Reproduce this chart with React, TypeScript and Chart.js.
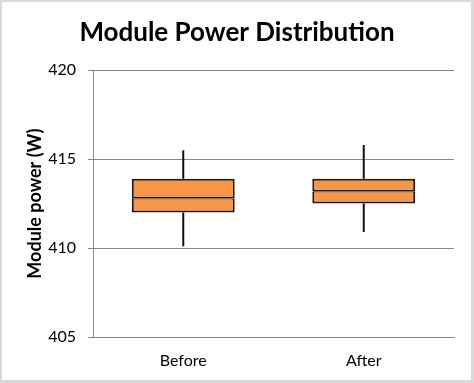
import React, { useEffect, useRef } from "react";
import { Chart, registerables } from "chart.js";

Chart.register(...registerables);

const categories = ["Before", "After"];
const mins = [410.1, 410.9];
const q1s = [412.0, 412.5];
const medians = [412.8, 413.2];
const q3s = [413.9, 413.9];
const maxs = [415.5, 415.8];
const yTicks = [405, 410, 415, 420];

const FONT = "Lato, 'Liberation Sans', sans-serif";
const BOX_FILL = "#F79646";
const BOX_LINE = "#24160a";
const GRID = "#888888";

const pageFrame = {
  id: "pageFrame",
  beforeDraw(chart: any) {
    const { ctx, width, height } = chart;
    ctx.save();
    ctx.fillStyle = "#d9d9d9";
    ctx.fillRect(0, 0, width, height);
    ctx.fillStyle = "#ffffff";
    ctx.fillRect(2, 2, width - 5, height - 5);
    ctx.restore();
  },
};

export default function App() {
  const ref = useRef<HTMLCanvasElement | null>(null);

  useEffect(() => {
    document.body.style.margin = "0";
    const canvas = ref.current;
    if (!canvas) return;
    const chart = new Chart(canvas, {
      type: "bar",
      data: {
        labels: categories,
        datasets: [
          {
            label: "lower whisker",
            data: categories.map((_, i) => [mins[i], q1s[i]]),
            backgroundColor: "#111111",
            borderWidth: 0,
            maxBarThickness: 2,
            grouped: false,
          },
          {
            label: "upper whisker",
            data: categories.map((_, i) => [q3s[i], maxs[i]]),
            backgroundColor: "#111111",
            borderWidth: 0,
            maxBarThickness: 2,
            grouped: false,
          },
          {
            label: "lower box",
            data: categories.map((_, i) => [q1s[i], medians[i]]),
            backgroundColor: BOX_FILL,
            borderColor: BOX_LINE,
            borderWidth: { top: 1.3, bottom: 2, left: 2, right: 2 },
            borderSkipped: false,
            categoryPercentage: 1,
            barPercentage: 0.57,
            grouped: false,
          },
          {
            label: "upper box",
            data: categories.map((_, i) => [medians[i], q3s[i]]),
            backgroundColor: BOX_FILL,
            borderColor: BOX_LINE,
            borderWidth: { top: 2, bottom: 1.3, left: 2, right: 2 },
            borderSkipped: false,
            categoryPercentage: 1,
            barPercentage: 0.57,
            grouped: false,
          },
        ] as any,
      },
      options: {
        responsive: false,
        animation: false,
        layout: { padding: { left: 20, right: 20, top: 0, bottom: 0 } },
        plugins: {
          legend: { display: false },
          tooltip: { enabled: false },
          title: {
            display: true,
            text: "Module Power Distribution",
            color: "#000000",
            font: { family: FONT, size: 26, weight: "bold" },
            padding: { top: 17, bottom: 22 },
          },
        },
        scales: {
          x: {
            type: "category",
            grid: { display: false, drawTicks: false },
            border: { display: true, color: GRID, width: 1 },
            ticks: {
              color: "#000000",
              font: { family: FONT, size: 16 },
              padding: 14,
            },
            afterFit(scale: any) {
              scale.height = 46;
            },
          },
          y: {
            min: 405,
            max: 420,
            afterBuildTicks(scale: any) {
              scale.ticks = yTicks.map((v) => ({ value: v }));
            },
            grid: {
              color: GRID,
              lineWidth: 1,
              drawTicks: true,
              tickLength: 5,
              tickColor: GRID,
            },
            border: { display: true, color: GRID, width: 1 },
            ticks: {
              color: "#000000",
              font: { family: FONT, size: 16 },
              padding: 12,
            },
            title: {
              display: true,
              text: "Module power (W)",
              color: "#000000",
              font: { family: FONT, size: 18, weight: "bold" },
              padding: { top: 4, bottom: 0 },
            },
            afterFit(scale: any) {
              scale.width = 73;
            },
          },
        },
      },
      plugins: [pageFrame],
    });
    return () => chart.destroy();
  }, []);

  return (
    <div style={{ width: 474, height: 383, position: "relative" }}>
      <canvas ref={ref} width={474} height={383} style={{ display: "block" }} />
    </div>
  );
}
